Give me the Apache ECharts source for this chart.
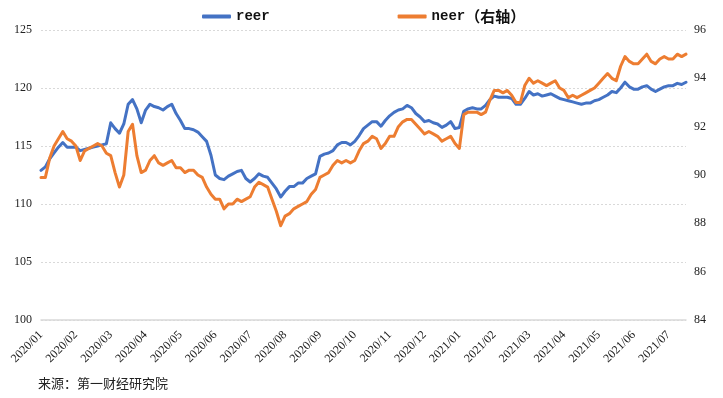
<!DOCTYPE html>
<html>
<head>
<meta charset="utf-8">
<script src="https://cdn.jsdelivr.net/npm/echarts@6/dist/echarts.min.js"></script>
<style>html,body{margin:0;padding:0;background:#fff}#c{width:723px;height:398px}</style>
</head>
<body>
<div id="c"></div>
<script>
const months = ['2020/01','2020/02','2020/03','2020/04','2020/05','2020/06','2020/07','2020/08','2020/09','2020/10','2020/11','2020/12','2021/01','2021/02','2021/03','2021/04','2021/05','2021/06','2021/07'];
const pointsPerMonth = 8;

const reer = [
112.9,113.2,113.9,114.4,114.9,115.3,114.9,114.9,
114.9,114.6,114.7,114.8,114.9,115.0,115.1,115.2,
117.0,116.5,116.1,116.9,118.6,119.0,118.2,117.0,
118.1,118.6,118.4,118.3,118.1,118.4,118.6,117.8,
117.2,116.5,116.5,116.4,116.2,115.8,115.4,114.2,
112.5,112.2,112.1,112.4,112.6,112.8,112.9,112.2,
111.9,112.2,112.6,112.4,112.3,111.8,111.3,110.6,
111.1,111.5,111.5,111.8,111.8,112.2,112.4,112.6,
114.1,114.3,114.4,114.6,115.1,115.3,115.3,115.1,
115.4,115.9,116.5,116.8,117.1,117.1,116.7,117.2,
117.6,117.9,118.1,118.2,118.5,118.3,117.8,117.5,
117.1,117.2,117.0,116.9,116.6,116.8,117.1,116.5,
116.6,118.0,118.2,118.3,118.2,118.2,118.5,119.0,
119.3,119.2,119.2,119.2,119.1,118.6,118.6,119.1,
119.7,119.4,119.5,119.3,119.4,119.5,119.3,119.1,
119.0,118.9,118.8,118.7,118.6,118.7,118.7,118.9,
119.0,119.2,119.4,119.7,119.6,120.0,120.5,120.1,
119.9,119.9,120.1,120.2,119.9,119.7,119.9,120.1,
120.2,120.2,120.4,120.3,120.5
];

const neer = [
89.9,89.9,90.7,91.2,91.5,91.8,91.5,91.4,
91.2,90.6,91.0,91.1,91.2,91.3,91.2,90.9,
90.8,90.1,89.5,90.0,91.8,92.1,90.8,90.1,
90.2,90.6,90.8,90.5,90.4,90.5,90.6,90.3,
90.3,90.1,90.2,90.2,90.0,89.9,89.5,89.2,
89.0,89.0,88.6,88.8,88.8,89.0,88.9,89.0,
89.1,89.5,89.7,89.6,89.5,89.0,88.5,87.9,
88.3,88.4,88.6,88.7,88.8,88.9,89.2,89.4,
89.9,90.0,90.1,90.4,90.6,90.5,90.6,90.5,
90.6,91.0,91.3,91.4,91.6,91.5,91.1,91.3,
91.6,91.6,92.0,92.2,92.3,92.3,92.1,91.9,
91.7,91.8,91.7,91.6,91.4,91.5,91.6,91.3,
91.1,92.5,92.6,92.6,92.6,92.5,92.6,93.1,
93.5,93.5,93.4,93.5,93.3,93.0,93.0,93.7,
94.0,93.8,93.9,93.8,93.7,93.8,93.9,93.6,
93.5,93.2,93.3,93.2,93.3,93.4,93.5,93.6,
93.8,94.0,94.2,94.0,93.9,94.5,94.9,94.7,
94.6,94.6,94.8,95.0,94.7,94.6,94.8,94.9,
94.8,94.8,95.0,94.9,95.0
];

const leftTicks = {min: 100, max: 125, step: 5};
const rightTicks = {min: 84, max: 96, step: 2};
const seriesNames = ['reer', 'neer（右轴）'];
const sourceText = '来源：第一财经研究院';

const categories = reer.map((_, i) => months[Math.floor(i / pointsPerMonth)] + '#' + (i % pointsPerMonth));

const serif = "'Liberation Serif','Noto Sans CJK SC',serif";
const chart = echarts.init(document.getElementById('c'), null, {renderer: 'canvas'});
chart.setOption({
  animation: false,
  backgroundColor: '#fff',
  grid: {left: 41, right: 37, top: 30, bottom: 78, containLabel: false},
  legend: {
    left: 197, top: 4,
    itemWidth: 29, itemHeight: 4, itemGap: 128,
    icon: 'roundRect',
    data: seriesNames,
    formatter: function (n) {
      const i = n.indexOf('（');
      if (i < 0) return '{a|' + n + '}';
      return '{a|' + n.slice(0, i) + '}{b|' + n.slice(i) + '}';
    },
    textStyle: {
      color: '#111',
      rich: {
        a: {fontFamily: "'Liberation Mono',monospace", fontWeight: 'bold', fontSize: 14, color: '#111'},
        b: {fontFamily: "'Noto Sans CJK SC'", fontWeight: 'bold', fontSize: 15, color: '#111'}
      }
    }
  },
  xAxis: {
    type: 'category',
    boundaryGap: false,
    data: categories,
    axisLine: {show: true, lineStyle: {color: '#d9d9d9', width: 1.5}},
    axisTick: {show: false},
    axisLabel: {
      interval: pointsPerMonth - 1,
      rotate: 45,
      margin: 13,
      color: '#222',
      fontFamily: serif,
      fontSize: 12,
      formatter: v => v.split('#')[0]
    },
    splitLine: {show: false}
  },
  yAxis: [
    {
      type: 'value', min: leftTicks.min, max: leftTicks.max, interval: leftTicks.step,
      axisLine: {show: false}, axisTick: {show: false},
      axisLabel: {color: '#222', fontFamily: serif, fontSize: 12, margin: 9},
      splitLine: {show: true, lineStyle: {color: '#d9d9d9', type: [2, 2], width: 1}}
    },
    {
      type: 'value', min: rightTicks.min, max: rightTicks.max, interval: rightTicks.step,
      axisLine: {show: false}, axisTick: {show: false},
      axisLabel: {color: '#222', fontFamily: serif, fontSize: 12, margin: 8},
      splitLine: {show: false}
    }
  ],
  series: [
    {
      name: seriesNames[0], type: 'line', yAxisIndex: 0, data: reer,
      showSymbol: false, symbol: 'none',
      lineStyle: {color: '#4472C4', width: 3, cap: 'round', join: 'round'},
      itemStyle: {color: '#4472C4'}
    },
    {
      name: seriesNames[1], type: 'line', yAxisIndex: 1, data: neer,
      showSymbol: false, symbol: 'none',
      lineStyle: {color: '#ED7D31', width: 3, cap: 'round', join: 'round'},
      itemStyle: {color: '#ED7D31'}
    }
  ],
  graphic: [{
    type: 'text', left: 38, top: 377,
    style: {text: sourceText, font: "13px 'Noto Sans CJK SC'", fill: '#222'}
  }]
});
</script>
</body>
</html>
